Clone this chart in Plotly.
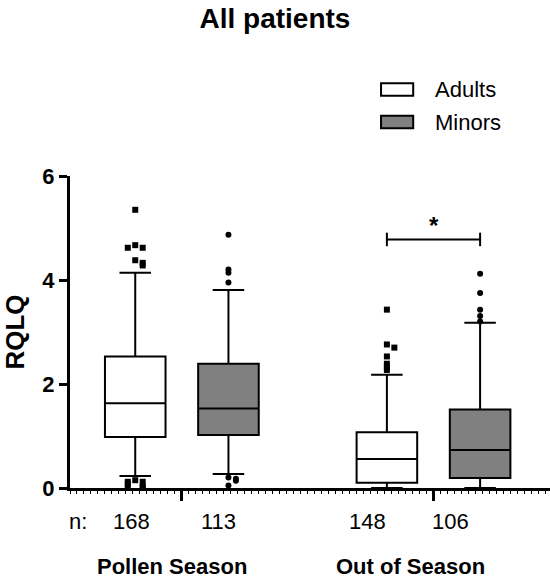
import plotly.graph_objects as go

# box statistics (RQLQ score)
groups = ["Pollen Season", "Out of Season"]
series = ["Adults", "Minors", "Adults", "Minors"]
n_counts = [168, 113, 148, 106]
q1 = [0.98, 1.02, 0.10, 0.19]
median = [1.63, 1.53, 0.56, 0.73]
q3 = [2.53, 2.39, 1.07, 1.51]
lower_fence = [0.23, 0.27, 0.0, 0.0]
upper_fence = [4.14, 3.81, 2.18, 3.18]

# outliers per box
outliers = [
    [5.35, 4.67, 4.62, 4.62, 4.38, 4.33, 4.28, 0.15, 0.12, 0.12, 0.08, 0.03, 0.0, 0.0],
    [4.87, 4.20, 4.14, 3.95, 0.20, 0.18, 0.14, 0.05],
    [3.43, 2.76, 2.70, 2.53, 2.39, 2.33, 2.27],
    [4.12, 3.75, 3.43, 3.31, 3.20],
]

signif_y = 4.78
signif_label = "*"

# layout positions on the numeric x axis
pos = [1.0, 2.0, 3.7, 4.7]
n_label_x = [0.965, 1.89, 3.49, 4.38]
group_label_x = [1.394, 3.95]
dividers = [1.5, 4.2]
fills = {"Adults": "white", "Minors": "#808080"}
symbols = {"Adults": "square", "Minors": "circle"}
font = "Arial, Liberation Sans, sans-serif"

fig = go.Figure()

for i in range(4):
    s = series[i]
    fig.add_trace(go.Box(
        x=[pos[i]], q1=[q1[i]], median=[median[i]], q3=[q3[i]],
        lowerfence=[lower_fence[i]], upperfence=[upper_fence[i]],
        name=s, showlegend=False,
        width=0.65, whiskerwidth=0.52, boxpoints=False,
        fillcolor=fills[s], line=dict(color="black", width=2),
        hoverinfo="skip",
    ))

    # spread near-equal outliers a little sideways
    xs = []
    for j, v in enumerate(outliers[i]):
        k = sum(1 for w in outliers[i][:j] if abs(w - v) < 0.06)
        off = 0.0 if k == 0 else (0.08 * ((k + 1) // 2) * (1 if k % 2 else -1))
        xs.append(pos[i] + off)
    fig.add_trace(go.Scatter(
        x=xs, y=outliers[i], mode="markers", showlegend=False,
        marker=dict(symbol=symbols[s], size=6, color="black"),
        cliponaxis=False, hoverinfo="skip",
    ))

# legend drawn as wide swatches like the original
legend_items = ["Adults", "Minors"]
for k, s in enumerate(legend_items):
    yc = 1.277 - k * 0.104
    fig.add_shape(type="rect", xref="paper", yref="paper",
                  x0=0.648, x1=0.715, y0=yc - 0.020, y1=yc + 0.020,
                  fillcolor=fills[s], line=dict(color="black", width=2))
    fig.add_annotation(x=0.756, y=yc, xref="paper", yref="paper", text=s,
                       xanchor="left", yanchor="middle", showarrow=False,
                       font=dict(size=22, color="black", family=font))

# significance bracket between the out-of-season boxes
fig.add_shape(type="line", x0=pos[2], x1=pos[3], y0=signif_y, y1=signif_y,
              line=dict(color="black", width=2))
for p in (pos[2], pos[3]):
    fig.add_shape(type="line", x0=p, x1=p, y0=signif_y - 0.13, y1=signif_y + 0.13,
                  line=dict(color="black", width=2))
fig.add_annotation(x=(pos[2] + pos[3]) / 2, y=signif_y + 0.27, text="<b>" + signif_label + "</b>",
                   showarrow=False, yanchor="middle",
                   font=dict(size=24, color="black", family=font))

# n row and group labels
fig.add_annotation(x=0.386, y=-0.108, xref="x", yref="paper", text="n:",
                   yanchor="middle", showarrow=False,
                   font=dict(size=22, color="black", family=font))
for i in range(4):
    fig.add_annotation(x=n_label_x[i], y=-0.108, xref="x", yref="paper",
                       text=str(n_counts[i]), yanchor="middle", showarrow=False,
                       font=dict(size=22, color="black", family=font))
for g, gx in zip(groups, group_label_x):
    fig.add_annotation(x=gx, y=-0.251, xref="x", yref="paper", text="<b>" + g + "</b>",
                       yanchor="middle", showarrow=False,
                       font=dict(size=22, color="black", family=font))

fig.update_layout(
    width=550, height=582,
    margin=dict(l=70, r=0, t=176, b=94, autoexpand=False),
    plot_bgcolor="white", paper_bgcolor="white",
    font=dict(family=font, color="black"),
    title=dict(text="<b>All patients</b>", x=0.5, xref="container", xanchor="center",
               y=0.968, yanchor="middle", font=dict(size=28, color="black")),
    showlegend=False,
    xaxis=dict(range=[0.3, 5.45], showgrid=False, zeroline=False, automargin=False,
               showline=True, linecolor="black", linewidth=3,
               tickvals=dividers, ticktext=["", ""], ticks="outside",
               ticklen=10, tickwidth=3, tickcolor="black",
               minor=dict(dtick=0.075, ticks="outside", ticklen=3, tickwidth=1,
                          tickcolor="black")),
    yaxis=dict(range=[0, 6], showgrid=False, zeroline=False, automargin=False,
               showline=True, linecolor="black", linewidth=3,
               tickvals=[0, 2, 4, 6], ticktext=["<b>0</b>", "<b>2</b>", "<b>4</b>", "<b>6</b>"],
               ticks="outside", ticklen=8, tickwidth=3, tickcolor="black",
               tickfont=dict(size=22, color="black"),
               title=dict(text="<b>RQLQ</b>", font=dict(size=26, color="black"), standoff=14)),
)

# page body has an 8px default margin; drop it so the figure fills the window
fig.write_html("out.html", config={"displayModeBar": False},
               post_script="document.body.style.margin='0';")
